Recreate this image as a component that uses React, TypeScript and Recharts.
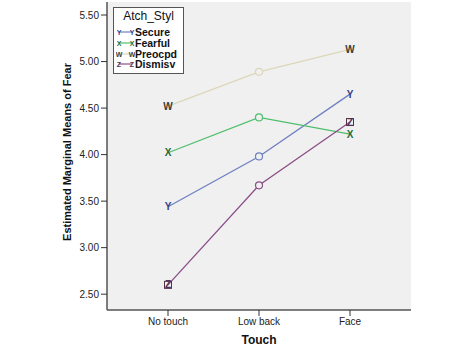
import { LineChart, Line, XAxis, YAxis, CartesianGrid, Legend } from 'recharts';

const categories = ['No touch', 'Low back', 'Face'];
const secure = [3.44, 3.98, 4.65];
const fearful = [4.02, 4.4, 4.22];
const preocpd = [4.52, 4.89, 5.13];
const dismisv = [2.6, 3.67, 4.35];
const yTicks = [2.5, 3.0, 3.5, 4.0, 4.5, 5.0, 5.5];

const data = categories.map((touch, i) => ({
  touch,
  Secure: secure[i],
  Fearful: fearful[i],
  Preocpd: preocpd[i],
  Dismisv: dismisv[i],
}));

const font = '"Liberation Sans", Arial, sans-serif';

const series = [
  { key: 'Secure', letter: 'Y', line: '#6f80c2', mark: '#34428a', boxed: false },
  { key: 'Fearful', letter: 'X', line: '#4fbe6c', mark: '#2a6b3a', boxed: false },
  { key: 'Preocpd', letter: 'W', line: '#dcd7bb', mark: '#3d3d33', boxed: false },
  { key: 'Dismisv', letter: 'Z', line: '#8a4f88', mark: '#55304f', boxed: true },
];

const makeDot = (letter: string, line: string, mark: string, boxed: boolean) => (p: any) => {
  const { cx, cy, index } = p;
  if (index === 1) {
    return <circle key={index} cx={cx} cy={cy} r={3.5} fill="#f0f0f0" stroke={line} strokeWidth={1.2} />;
  }
  return (
    <g key={index}>
      {boxed && <rect x={cx - 3.5} y={cy - 3.5} width={7} height={7} fill="none" stroke={mark} strokeWidth={1} />}
      <text x={cx} y={cy} dy="0.36em" textAnchor="middle" fontSize={10} fontWeight="bold" fontFamily={font} fill={mark}>
        {letter}
      </text>
    </g>
  );
};

const LegendBox = () => (
  <div
    style={{
      width: 69,
      height: 65,
      background: '#fff',
      border: '1px solid #555',
      fontFamily: font,
      color: '#111',
      boxSizing: 'content-box',
    }}
  >
    <div style={{ fontSize: 12, textAlign: 'center', lineHeight: '16px', height: 19 }}>Atch_Styl</div>
    {series.map((s) => (
      <div key={s.key} style={{ display: 'flex', alignItems: 'center', height: 10.7, fontSize: 10.5, fontWeight: 'bold' }}>
        <svg width={19} height={10} style={{ marginLeft: 2 }}>
          <line x1={3} y1={5} x2={16} y2={5} stroke={s.line} strokeWidth={1.2} />
          <text x={3} y={8} fontSize={7} textAnchor="middle" fill={s.mark} fontFamily={font}>{s.letter}</text>
          <text x={16} y={8} fontSize={7} textAnchor="middle" fill={s.mark} fontFamily={font}>{s.letter}</text>
        </svg>
        <span>{s.key}</span>
      </div>
    ))}
  </div>
);

export default function App() {
  return (
    <div style={{ width: 474, height: 353, background: '#fff' }}>
      <style>{'body{margin:0}'}</style>
      <LineChart width={474} height={353} data={data} margin={{ top: 2, right: 63, bottom: 0, left: 0 }}>
        <CartesianGrid fill="#f0f0f0" horizontal={false} vertical={false} />
        <XAxis
          dataKey="touch"
          height={43}
          padding={{ left: 61, right: 61 }}
          tickSize={6}
          tick={{ fontSize: 10, fill: '#222', fontFamily: font }}
          stroke="#555"
          axisLine={{ stroke: '#555', strokeWidth: 1.5 }}
          tickLine={{ stroke: '#333' }}
          label={{ value: 'Touch', position: 'insideBottom', offset: 9, fontSize: 12, fontWeight: 'bold', fill: '#111', fontFamily: font }}
        />
        <XAxis xAxisId="top" dataKey="touch" orientation="top" height={0} tick={false} tickLine={false} axisLine={{ stroke: '#bbb', strokeWidth: 2 }} padding={{ left: 61, right: 61 }} />
        <YAxis
          width={107}
          domain={[2.33, 5.64]}
          ticks={yTicks}
          tickFormatter={(v: number) => v.toFixed(2)}
          tickSize={6}
          tick={{ fontSize: 10, fill: '#222', fontFamily: font }}
          axisLine={{ stroke: '#555', strokeWidth: 1.5 }}
          tickLine={{ stroke: '#333' }}
          label={(props: any) => {
            const vb = props.viewBox;
            const x = vb.x + 67;
            const y = vb.y + vb.height / 2 - 4;
            return (
              <text x={x} y={y} transform={`rotate(-90 ${x} ${y})`} textAnchor="middle" dy="0.36em" fontSize={11} fontWeight="bold" fill="#111" fontFamily={font}>
                Estimated Marginal Means of Fear
              </text>
            );
          }}
        />
        <YAxis yAxisId="right" orientation="right" width={0} domain={[2.33, 5.64]} tick={false} tickLine={false} axisLine={{ stroke: '#555', strokeWidth: 2 }} />
        <Legend
          layout="vertical"
          align="center"
          verticalAlign="middle"
          content={() => <LegendBox />}
          wrapperStyle={{ left: 113, top: 7, width: 71 }}
        />
        {series.map((s) => (
          <Line
            key={s.key}
            type="linear"
            dataKey={s.key}
            stroke={s.line}
            strokeWidth={1.3}
            dot={makeDot(s.letter, s.line, s.mark, s.boxed)}
            activeDot={false}
            isAnimationActive={false}
          />
        ))}
      </LineChart>
    </div>
  );
}
